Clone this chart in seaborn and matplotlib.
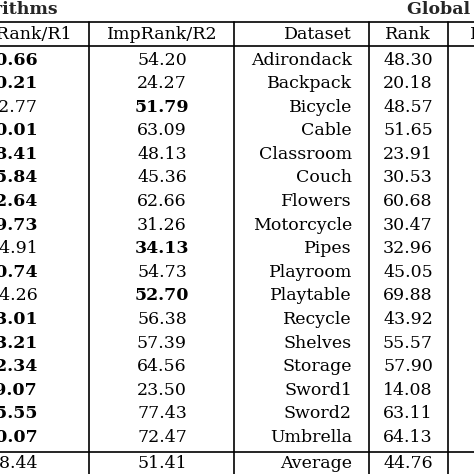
import matplotlib
matplotlib.use("Agg")
import matplotlib.pyplot as plt
import seaborn as sns

sns.set_theme(style="white")
plt.rcParams['font.family'] = ['DejaVu Serif']

datasets = ["Adirondack", "Backpack", "Bicycle", "Cable", "Classroom", "Couch", "Flowers",
            "Motorcycle", "Pipes", "Playroom", "Playtable", "Recycle", "Shelves", "Storage",
            "Sword1", "Sword2", "Umbrella"]
col_r1 = [50.66, 20.21, 52.77, 50.01, 38.41, 35.84, 52.64, 29.73, 34.91, 50.74, 54.26,
          53.01, 53.21, 52.34, 19.07, 75.55, 70.07]
col_r1_bold = [True, True, False, True, True, True, True, True, False, True, False,
               True, True, True, True, True, True]
col_r2 = [54.20, 24.27, 51.79, 63.09, 48.13, 45.36, 62.66, 31.26, 34.13, 54.73, 52.70,
          56.38, 57.39, 64.56, 23.50, 77.43, 72.47]
col_r2_bold = [not b for b in col_r1_bold]
col_rank = [48.30, 20.18, 48.57, 51.65, 23.91, 30.53, 60.68, 30.47, 32.96, 45.05, 69.88,
            43.92, 55.57, 57.90, 14.08, 63.11, 64.13]
avg_r1, avg_r2, avg_rank = 48.44, 51.41, 44.76

fig = plt.figure(figsize=(4.74, 4.74), dpi=100)
ax = fig.add_axes([0, 0, 1, 1])
ax.set_xlim(0, 474)
ax.set_ylim(474, 0)
ax.axis("off")

fs = 12.5
kw = dict(fontsize=fs, va="center", color="black")
ax.text(58, 9, "Algorithms", ha="right", fontsize=fs, fontweight="bold", va="center")
ax.text(407, 9, "Global Accuracy", ha="left", fontsize=fs, fontweight="bold", va="center")
ax.plot([0, 474], [22, 22], color="black", lw=1.2)
ax.plot([0, 474], [46, 46], color="black", lw=1.2)
ax.plot([0, 474], [452, 452], color="black", lw=1.2)
for x in [89, 234, 369, 448]:
    ax.plot([x, x], [22, 474], color="black", lw=1.2)

ax.text(72, 34, "AvgRank/R1", ha="right", **kw)
ax.text(162, 34, "ImpRank/R2", ha="center", **kw)
ax.text(352, 34, "Dataset", ha="right", **kw)
ax.text(408, 34, "Rank", ha="center", **kw)
ax.text(470, 34, "R", ha="left", **kw)

y0, dy = 60, 23.6
for i, d in enumerate(datasets):
    y = y0 + i * dy
    ax.text(38, y, f"{col_r1[i]:.2f}", ha="right",
            fontweight="bold" if col_r1_bold[i] else "normal", **kw)
    ax.text(162, y, f"{col_r2[i]:.2f}", ha="center",
            fontweight="bold" if col_r2_bold[i] else "normal", **kw)
    ax.text(352, y, d, ha="right", **kw)
    ax.text(408, y, f"{col_rank[i]:.2f}", ha="center", **kw)
ya = 464
ax.text(38, ya, f"{avg_r1:.2f}", ha="right", **kw)
ax.text(162, ya, f"{avg_r2:.2f}", ha="center", **kw)
ax.text(352, ya, "Average", ha="right", **kw)
ax.text(408, ya, f"{avg_rank:.2f}", ha="center", **kw)

fig.savefig("out.png", dpi=100)
